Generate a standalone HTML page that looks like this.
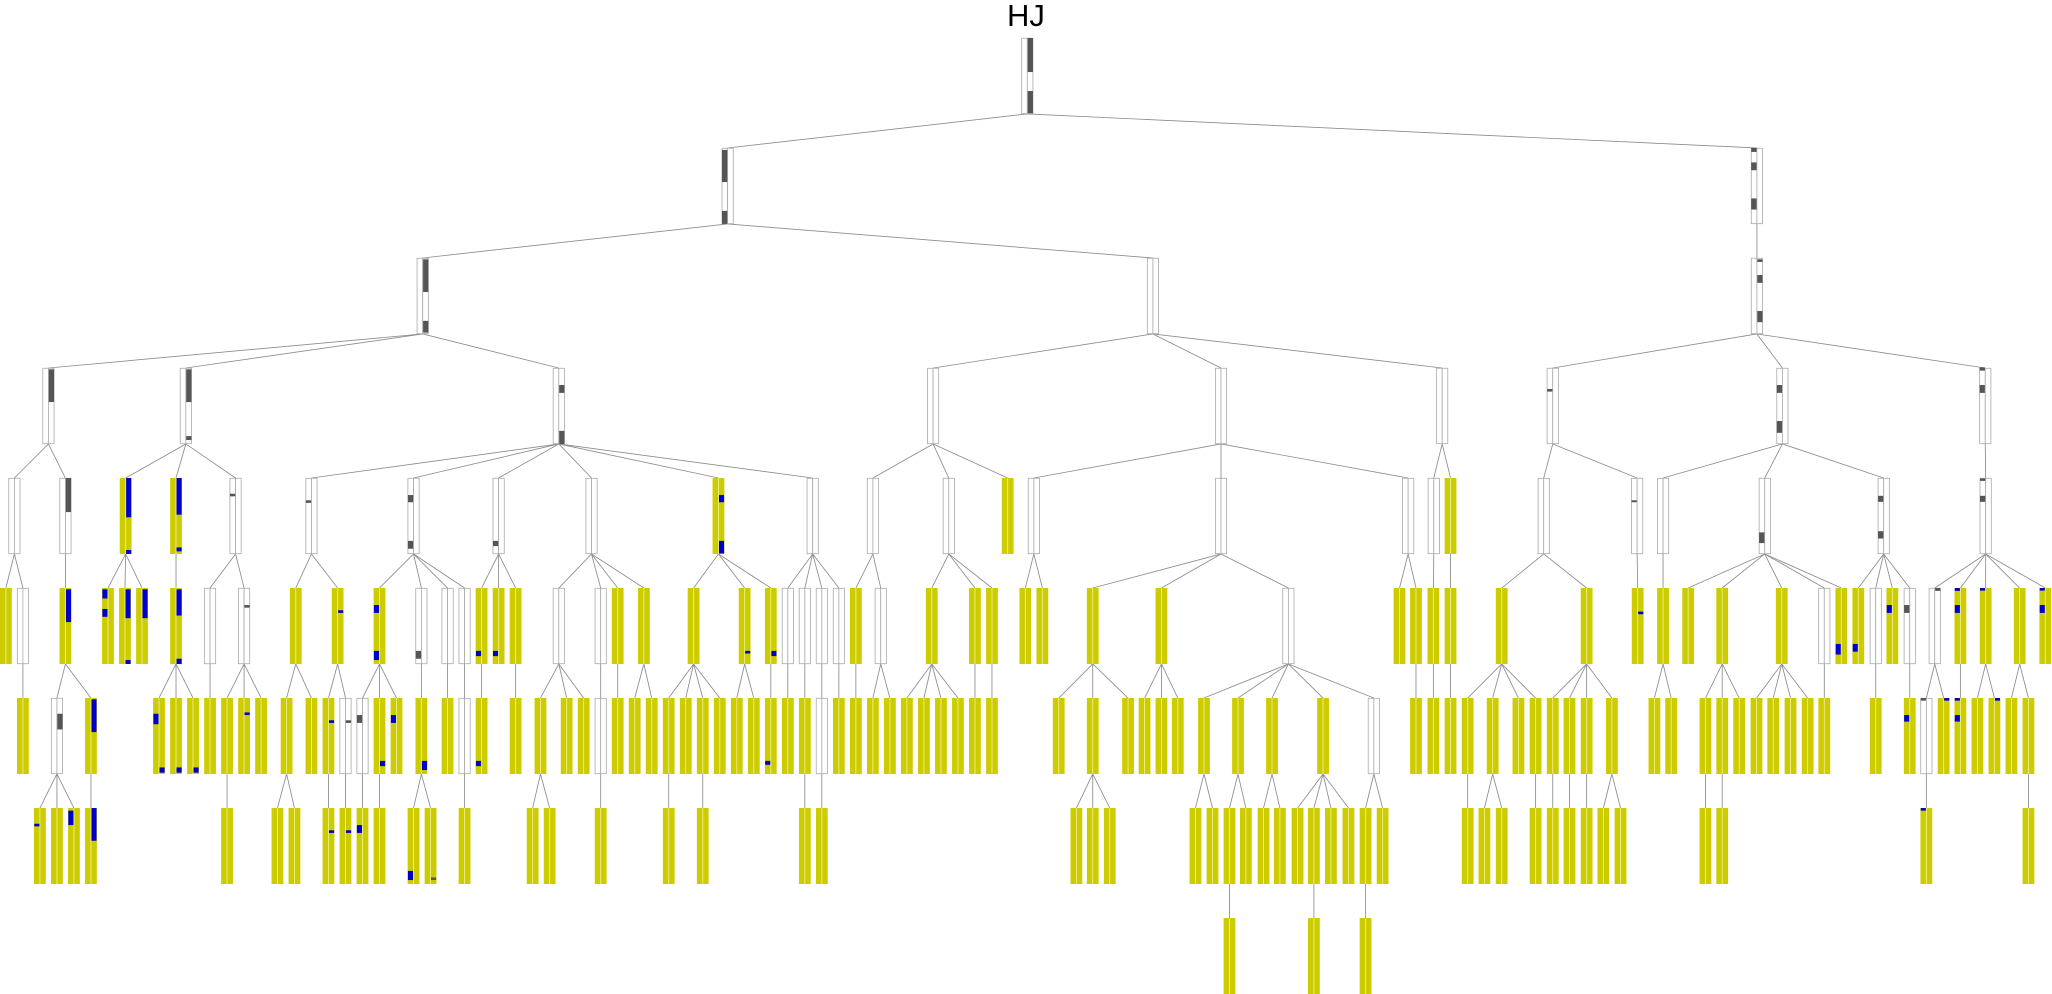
<!DOCTYPE html>
<html><head><meta charset="utf-8"><style>
html,body{margin:0;padding:0;background:#fff;}
#wrap{position:relative;width:2052px;height:994px;overflow:hidden;}
#t{position:absolute;left:0;width:2052px;top:0;text-align:center;font-family:"Liberation Sans",sans-serif;font-size:31px;line-height:31px;color:#000;}
svg{position:absolute;left:0;top:0;}
</style></head><body>
<div id="wrap">
<svg id="s" width="2052" height="994" viewBox="0 0 1568 759" preserveAspectRatio="none" xmlns="http://www.w3.org/2000/svg"></svg>
<div id="t">HJ</div>
</div>
<script>
(function(){
var T=[29,113,197,281,365,449,533,617,701],H=58;
var g="#555",b="#0000cc";
var L=[
[[785,'W',null,[['R',29,55,g],['R',69.5,86.5,g]]]],
[[556,'W',785,[['L',114.5,139,g],['L',161,171,g]]],[1342.5,'W',785,[['L',113,116,g],['L',124,130,g],['L',151.5,160,g]]]],
[[323,'W',556,[['R',198,223,g],['R',245,254,g]]],[881,'W',556],[1342.5,'W',1342.5,[['R',198,200,g],['R',210,216,g],['R',237.5,246,g]]]],
[[37,'W',323,[['R',282,307,g]]],[142,'W',323,[['R',282,307,g],['R',333,336,g]]],[427,'W',323,[['R',294,300,g],['R',329,339,g]]],[713,'W',881],[933,'W',881],[1102,'W',881],[1186.5,'W',1342.5,[['L',297,299,g]]],[1362,'W',1342.5,[['L',294,300,g],['L',321.5,330.5,g]]],[1517,'W',1342.5,[['L',280.5,283,g],['L',294,300,g]]]],
[[11,'W',37],[50,'W',37,[['R',365,391,g]]],[96,'Y',142,[['R',365,395,b],['R',420,423,b]]],[134.5,'Y',142,[['R',365,393,b],['R',418,421,b]]],[180,'W',142,[['L',377,379,g]]],
[238,'W',427,[['L',382,384,g]]],[316,'W',427,[['L',378,383.5,g],['L',413,419,g]]],[381,'W',427,[['L',413,417,g]]],[452,'W',427],[549,'Y',427,[['R',378,383.5,b],['R',413,422.6,b]]],[621,'W',427],
[667,'W',713],[725,'W',713],[770,'Y',713],[790,'W',933],[933,'W',933],[1076,'W',933],[1095.6,'W',1102],[1108.4,'Y',1102],
[1179.6,'W',1186.5],[1251,'W',1186.5,[['L',382,383.5,g]]],[1270.8,'W',1362],[1348.5,'W',1362,[['L',406.5,414.7,g]]],[1439.4,'W',1362,[['L',378.6,383.2,g],['L',405.6,411.2,g]]],[1517.3,'W',1517,[['L',365.4,367.2,g],['L',378.6,383.2,g]]]],
[[4.5,'Y',11],[17.5,'W',11],[50,'Y',50,[['R',450,475,b]]],[82.5,'Y',96,[['L',450,457,b],['L',465,471,b]]],[95.5,'Y',96,[['R',450,472,b],['R',504,507,b]]],[108.5,'Y',96,[['R',450,472,b]]],[134.5,'Y',134.5,[['R',450,470,b],['R',503,507,b]]],[160.5,'W',180],[186.5,'W',180,[['R',462,464,g]]],
[226,'Y',238],[258,'Y',238,[['R',466,468,b]]],[290,'Y',316,[['L',462,468,b],['L',497,504,b]]],[322,'W',316,[['L',497,503,g]]],[342,'W',316],[355,'W',316],[368,'Y',381,[['L',497,501,b]]],[381,'Y',381,[['L',497,501,b]]],[394,'Y',381],
[427,'W',452],[459,'W',452],[472,'Y',452],[492,'Y',452],[530,'Y',549],[569,'Y',549,[['R',497,499,b]]],[589,'Y',549,[['R',497,501,b]]],[602,'W',621],[615,'W',621],[628,'W',621],[641,'W',621],
[654,'Y',667],[673,'W',667],[712,'Y',725],[745,'Y',725],[758,'Y',725],[783.5,'Y',790],[796.5,'Y',790],[835,'Y',933],[887.5,'Y',933],[984.5,'W',933],
[1069.4,'Y',1076],[1082,'Y',1076],[1095.3,'Y',1095.6],[1108.4,'Y',1108.4],[1147.5,'Y',1179.6],[1212.4,'Y',1179.6],[1251.4,'Y',1251,[['R',467,469,b]]],[1270.8,'Y',1270.8],
[1290,'Y',1348.5],[1316,'Y',1348.5],[1361.5,'Y',1348.5],[1394,'W',1348.5],[1407,'Y',1348.5,[['L',491.7,499.8,b]]],
[1420,'Y',1439.4,[['L',491.7,497.6,b]]],[1433.3,'W',1439.4],[1446,'Y',1439.4,[['L',462,468,b]]],[1459.3,'W',1439.4,[['L',462,468,g]]],
[1478.4,'W',1517.3,[['R',449,451.2,g]]],[1498,'Y',1517.3,[['L',449,451.2,b],['L',462,468,b]]],[1517.3,'Y',1517.3,[['L',449,451,b]]],[1543.3,'Y',1517.3],[1562.9,'Y',1517.3,[['L',449,451,b],['L',462,468,b]]]],
[[17.5,'Y',17.5],[43.5,'W',50,[['R',545,557,g]]],[69.5,'Y',50,[['R',534,559,b]]],[121.5,'Y',134.5,[['L',545,553,b],['R',586,590,b]]],[134.5,'Y',134.5,[['R',586,590,b]]],[147.5,'Y',134.5,[['R',586,590,b]]],[160.5,'Y',160.5],[173.5,'Y',186.5],[186.5,'Y',186.5,[['R',544,546,b]]],[199.5,'Y',186.5],
[219,'Y',226],[238,'Y',226],[251,'Y',258,[['R',550,552,b]]],[264,'W',258,[['R',550,552,g]]],[277,'W',290,[['L',546,552,g]]],[290,'Y',290,[['R',581,585,b]]],[303,'Y',290,[['L',546,552,b]]],[322,'Y',322,[['R',581,588,b]]],[342,'Y',342],[355,'W',355],[368,'Y',368,[['L',581,585,b]]],[394,'Y',394],
[413,'Y',427],[433,'Y',427],[446,'Y',427],[459,'W',459],[472,'Y',472],[485,'Y',492],[498,'Y',492],[511,'Y',530],[524,'Y',530],[537,'Y',530],[550,'Y',530],[563,'Y',569],[576,'Y',569],[589,'Y',589,[['L',581,584,b]]],
[602,'Y',602],[615,'Y',615],[628,'W',628],[641,'Y',641],[654,'Y',654],[667,'Y',673],[680,'Y',673],[693,'Y',712],[706,'Y',712],[719,'Y',712],[732,'Y',712],[745,'Y',745],[758,'Y',758],
[809,'Y',835],[835,'Y',835],[862,'Y',835],[874.6,'Y',887.5],[887.5,'Y',887.5],[900,'Y',887.5],[920,'Y',984.5],[946,'Y',984.5],[972,'Y',984.5],[1011,'Y',984.5],[1049.8,'W',984.5],
[1082,'Y',1082],[1095.3,'Y',1095.3],[1108.4,'Y',1108.4],[1121.5,'Y',1147.5],[1140.6,'Y',1147.5],[1160.3,'Y',1147.5],[1173.4,'Y',1147.5],[1186.5,'Y',1212.4],[1199.3,'Y',1212.4],[1212.4,'Y',1212.4],[1231.7,'Y',1212.4],
[1264.2,'Y',1270.8],[1277,'Y',1270.8],[1303.2,'Y',1316],[1316,'Y',1316],[1329,'Y',1316],[1342.2,'Y',1361.5],[1355,'Y',1361.5],[1368.2,'Y',1361.5],[1381.3,'Y',1361.5],[1394,'Y',1394],
[1433.3,'Y',1433.3],[1459.3,'Y',1459.3,[['L',546,551,b]]],[1472,'W',1478.4,[['L',533,535,g]]],[1485.2,'Y',1478.4,[['R',533,535,b]]],[1498,'Y',1498,[['L',533,535,b],['L',546,551,b]]],[1511,'Y',1517.3],[1524,'Y',1517.3,[['R',533,535,b]]],[1537,'Y',1543.3],[1550,'Y',1543.3]],
[[30.5,'Y',43.5,[['L',629,631,b]]],[43.5,'Y',43.5],[56.5,'Y',43.5,[['L',619,630,b]]],[69.5,'Y',69.5,[['R',617,642,b]]],[173.5,'Y',173.5],[212,'Y',219],[225,'Y',219],
[251,'Y',251,[['R',634,636,b]]],[264,'Y',264,[['R',634,636,b]]],[277,'Y',277,[['L',630,636,b]]],[290,'Y',290],[316,'Y',322,[['L',665,672,b]]],[329,'Y',322,[['R',670,672,g]]],[355,'Y',355],
[407,'Y',413],[420,'Y',413],[459,'Y',459],[511,'Y',511],[537,'Y',537],[615,'Y',615],[628,'Y',628],
[822.5,'Y',835],[835,'Y',835],[848,'Y',835],[913.5,'Y',920],[926.5,'Y',920],[939.5,'Y',946],[952,'Y',946],[965.5,'Y',972],[978,'Y',972],
[991.5,'Y',1011],[1004,'Y',1011],[1017,'Y',1011],[1030.4,'Y',1011],[1043.5,'Y',1049.8],[1056.5,'Y',1049.8],
[1121.5,'Y',1121.5],[1134.3,'Y',1140.6],[1147.5,'Y',1140.6],[1173.4,'Y',1173.4],[1186.5,'Y',1186.5],[1199.3,'Y',1199.3],[1212.4,'Y',1212.4],[1225.2,'Y',1231.7],[1238.3,'Y',1231.7],
[1303.2,'Y',1303.2],[1316,'Y',1316],[1472,'Y',1472,[['L',617,619,b]]],[1550,'Y',1550]],
[[939.5,'Y',939.5],[1004,'Y',1004],[1043.5,'Y',1043.5]]
];
var e='',n='';
for(var l=0;l<L.length;l++){
 var tp=T[l];
 for(var i=0;i<L[l].length;i++){
  var d=L[l][i];
  var x=d[0];
  if(d[2]!==null&&d[2]!==undefined){
   e+='<line x1="'+d[2]+'" y1="'+(T[l-1]+H)+'" x2="'+x+'" y2="'+tp+'"/>';
  }
  if(d[1]==='Y'){
   n+='<rect x="'+(x-4.5)+'" y="'+tp+'" width="9" height="'+H+'" fill="#cccc00"/>';
  }else{
   n+='<rect x="'+(x-4.3)+'" y="'+(tp+0.2)+'" width="4.3" height="'+(H-0.4)+'" fill="#fff" stroke="#a8a8a8" stroke-width="0.6"/>';
   n+='<rect x="'+x+'" y="'+(tp+0.2)+'" width="4.3" height="'+(H-0.4)+'" fill="#fff" stroke="#a8a8a8" stroke-width="0.6"/>';
  }
  var ms=d[3]||[];
  for(var k=0;k<ms.length;k++){
   var m=ms[k];
   var mx=m[0]==='L'?x-4.3:x+0.3;
   n+='<rect x="'+mx+'" y="'+m[1]+'" width="4" height="'+Math.max(1.2,m[2]-m[1])+'" fill="'+m[3]+'"/>';
  }
  if(d[1]==='Y'){
   n+='<line x1="'+x+'" y1="'+tp+'" x2="'+x+'" y2="'+(tp+H)+'" stroke="#eeee90" stroke-width="0.7"/>';
  }
 }
}
document.getElementById('s').innerHTML='<g stroke="#8c8c8c" stroke-width="0.65" fill="none">'+e+'</g>'+n;
})();
</script>
</body></html>
